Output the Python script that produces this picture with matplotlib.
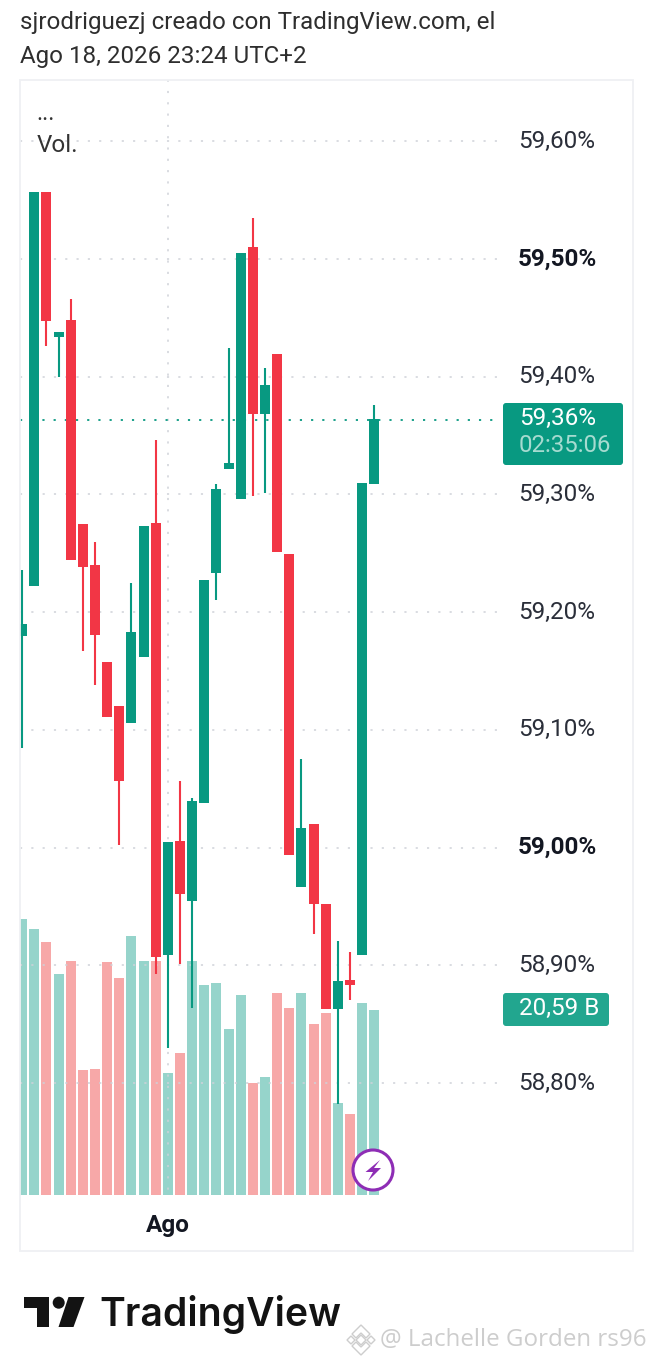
import matplotlib.pyplot as plt
from matplotlib.patches import Circle, FancyBboxPatch, Polygon, Rectangle

plt.rcParams['font.family'] = ['Roboto', 'DejaVu Sans']

W, H = 654, 1365
GREEN = '#089981'
RED = '#F23645'
VOL_GREEN = '#96D4CB'
VOL_RED = '#F7A8A8'
GRID = '#CFD2D9'

# candle data
opens = [59.180, 59.222, 59.557, 59.434, 59.448, 59.275, 59.240, 59.158, 59.120, 59.106,
         59.162, 59.276, 58.909, 59.006, 58.955, 59.038, 59.233, 59.322, 59.296, 59.510,
         59.368, 59.419, 59.249, 58.967, 59.020, 58.952, 58.863, 58.888, 58.909, 59.309]
closes = [59.190, 59.557, 59.447, 59.438, 59.244, 59.238, 59.181, 59.111, 59.057, 59.183,
          59.273, 58.907, 59.005, 58.961, 59.040, 59.227, 59.305, 59.327, 59.505, 59.368,
          59.393, 59.251, 58.994, 59.017, 58.952, 58.863, 58.887, 58.883, 59.310, 59.364]
highs = [59.236, 59.557, 59.557, 59.438, 59.466, 59.275, 59.260, 59.158, 59.120, 59.225,
         59.273, 59.346, 59.005, 59.057, 59.042, 59.227, 59.309, 59.424, 59.505, 59.535,
         59.407, 59.419, 59.249, 59.075, 59.020, 58.952, 58.921, 58.911, 59.310, 59.376]
lows = [59.085, 59.222, 59.426, 59.400, 59.244, 59.167, 59.138, 59.111, 59.002, 59.106,
        59.162, 58.893, 58.830, 58.901, 58.864, 59.038, 59.210, 59.322, 59.296, 59.299,
        59.301, 59.251, 58.994, 58.967, 58.927, 58.863, 58.782, 58.871, 58.909, 59.309]
volumes = [30.67, 29.56, 28.08, 24.50, 25.94, 13.84, 13.95, 25.86, 24.05, 28.75,
           25.94, 25.94, 13.54, 15.76, 25.94, 23.28, 23.50, 18.46, 22.17, 12.43,
           13.10, 22.46, 20.79, 22.46, 19.01, 20.24, 10.25, 9.02, 21.35, 20.59]

price_ticks = [58.8, 58.9, 59.0, 59.1, 59.2, 59.3, 59.4, 59.5, 59.6]
price_labels = ['58,80%', '58,90%', '59,00%', '59,10%', '59,20%', '59,30%', '59,40%', '59,50%', '59,60%']
bold_labels = ['59,00%', '59,50%']
last_price = 59.363
month_index = 12
month_label = 'Ago'

idx = list(range(len(opens)))
is_up = [c >= o for o, c in zip(opens, closes)]

fig = plt.figure(figsize=(W / 100, H / 100), dpi=100, facecolor='white')

# volume pane sits behind the candles on the same area
ax_vol = fig.add_axes([20 / W, 1 - 1195 / H, 480 / W, 1115 / H], zorder=1)
ax = fig.add_axes([20 / W, 1 - 1195 / H, 480 / W, 1115 / H], zorder=2, sharex=ax_vol)
ax.patch.set_alpha(0)

ax_vol.bar(idx, volumes, width=0.82, color=[VOL_GREEN if u else VOL_RED for u in is_up], linewidth=0)
ax_vol.set_ylim(0, 123.8)
ax_vol.axis('off')

dots = (0, (1.4, 6))
ax.hlines(price_ticks, -0.2, 39.4, color=GRID, lw=1.1, linestyle=dots, zorder=1)
ax.vlines(month_index, 58.7, 59.66, color=GRID, lw=1.1, linestyle=dots, zorder=1)
ax.hlines(last_price, -0.2, 39.6, color=GREEN, lw=1.3, linestyle=(0, (1.2, 5)), zorder=1)

colors = [GREEN if u else RED for u in is_up]
ax.vlines(idx, lows, highs, color=colors, lw=1.5, zorder=3)
bottoms = [min(o, c) for o, c in zip(opens, closes)]
heights = [abs(c - o) for o, c in zip(opens, closes)]
ax.bar(idx, heights, bottom=bottoms, width=0.82, color=colors, linewidth=0, zorder=4)

ax.set_xlim(-0.181, 39.36)
ax.set_ylim(58.705, 59.652)
for s in ax.spines.values():
    s.set_visible(False)

ax.yaxis.tick_right()
ax.set_yticks(price_ticks)
ax.set_yticklabels(price_labels)
ax.tick_params(axis='y', length=0, pad=12.8, labelsize=17.5, labelcolor='#2A2E39')
for t in ax.get_yticklabels():
    t.set_verticalalignment('center')
    if t.get_text() in bold_labels:
        t.set_fontweight('bold')
        t.set_color('#131722')
ax.set_xticks([month_index])
ax.set_xticklabels([month_label], fontweight='bold')
ax.tick_params(axis='x', length=0, pad=14, labelsize=17.5, labelcolor='#131722')

# overlay in pixel coordinates for frame, tags and logo
ov = fig.add_axes([0, 0, 1, 1], zorder=5)
ov.set_xlim(0, W)
ov.set_ylim(H, 0)
ov.axis('off')

ov.add_patch(Rectangle((20, 80), 613, 1171, fill=False, ec='#EFF0F3', lw=1.3))

ov.text(20, 23, 'sjrodriguezj creado con TradingView.com, el', fontsize=17.4, color='#2E2E2E', va='center')
ov.text(20, 57, 'Ago 18, 2026 23:24 UTC+2', fontsize=17.4, color='#2E2E2E', va='center')
ov.text(36, 113, '...', fontsize=17, color='#333333', va='center')
ov.text(37, 145, 'Vol.', fontsize=17.4, color='#333333', va='center')

ov.add_patch(FancyBboxPatch((503, 403), 120, 62, boxstyle='round,pad=0,rounding_size=3', fc=GREEN, ec='none'))
ov.text(519, 418, '59,36%', fontsize=17.5, color='white', va='center')
ov.text(519, 446, '02:35:06', fontsize=17.3, color='#A6DBD0', va='center')

ov.add_patch(FancyBboxPatch((503, 993), 106, 33, boxstyle='round,pad=0,rounding_size=3', fc='#22A68F', ec='none'))
ov.text(519, 1008, '20,59 B', fontsize=17.5, color='white', va='center')

# lightning badge
ov.add_patch(Circle((373, 1170), 20, fc='white', ec='#8E2DB5', lw=2.2))
ov.add_patch(Polygon([(380, 1160), (365.5, 1172), (373, 1172), (368, 1181), (381, 1168), (374, 1168)],
                     closed=True, fc='#8E2DB5', ec='none'))

# TradingView logo
ink = '#131313'
ov.add_patch(Polygon([(24, 1297), (48.5, 1297), (48.5, 1327), (36.5, 1327), (36.5, 1308), (24, 1308)], fc=ink, ec='none'))
ov.add_patch(Circle((58.7, 1302.7), 6, fc=ink, ec='none'))
ov.add_patch(Polygon([(68.5, 1297), (84.5, 1297), (73.5, 1327), (58.5, 1327)], fc=ink, ec='none'))
ov.text(99, 1315, 'TradingView', fontsize=28.2, fontweight='semibold', family='Inter', color=ink, va='center')

# watermark
wm = '#CDCDCD'
cx, cy = 361, 1340
ov.add_patch(Polygon([(cx - 9, cy - 6), (cx, cy - 15), (cx + 9, cy - 6), (cx + 5, cy - 2), (cx, cy - 7), (cx - 5, cy - 2)],
                     fill=False, ec=wm, lw=1))
ov.add_patch(Polygon([(cx - 9, cy + 6), (cx, cy + 15), (cx + 9, cy + 6), (cx + 5, cy + 2), (cx, cy + 7), (cx - 5, cy + 2)],
                     fill=False, ec=wm, lw=1))
ov.add_patch(Polygon([(cx, cy - 5), (cx + 5, cy), (cx, cy + 5), (cx - 5, cy)], fill=False, ec=wm, lw=1))
ov.add_patch(Polygon([(cx - 10, cy - 4), (cx - 6, cy), (cx - 10, cy + 4), (cx - 14, cy)], fill=False, ec=wm, lw=1))
ov.add_patch(Polygon([(cx + 10, cy - 4), (cx + 14, cy), (cx + 10, cy + 4), (cx + 6, cy)], fill=False, ec=wm, lw=1))
ov.text(647, 1340, '@ Lachelle Gorden rs96', fontsize=17.4, color=wm, va='center', ha='right', family='Open Sans')

fig.savefig('out.png', dpi=100)
